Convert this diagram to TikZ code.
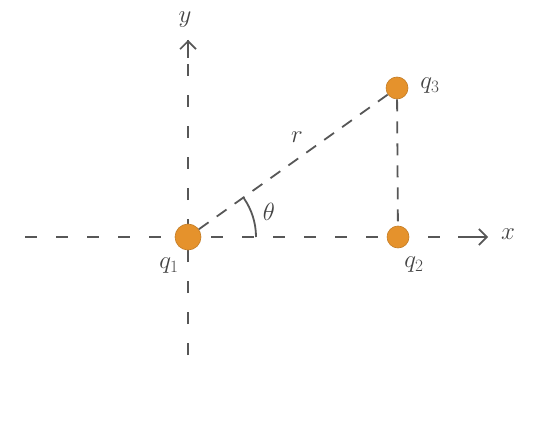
\documentclass[tikz,border=0pt]{standalone}
\usetikzlibrary{arrows.meta}
\definecolor{chg}{HTML}{E5922C}
\definecolor{ink}{HTML}{444444}
\begin{document}
\begin{tikzpicture}[x=1pt,y=-1pt,
  axis/.style={draw=ink!90,line width=1.8pt,dash pattern=on 12pt off 19pt},
  guide/.style={draw=ink!90,line width=1.8pt,dash pattern=on 12pt off 10pt},
  charge/.style={circle,fill=chg,draw=chg!85!black,line width=0.6pt,inner sep=0pt},
  lbl/.style={text=ink,font=\fontsize{24}{24}\selectfont},
  tip/.style={-{Straight Barb[length=8pt,width=16pt,line width=1.6pt]}}]
\useasboundingbox (0,0) rectangle (534,430);
% axes
\coordinate (xl) at (25,237);
\coordinate (xr) at (488,237);
\coordinate (yt) at (188,40);
\coordinate (yb) at (188,355);
\draw[axis] (xl) -- (xr);
\draw[axis] (yb) -- (yt);
\draw[ink!90,line width=1.8pt,tip] (458,237) -- (xr);
\draw[ink!90,line width=1.8pt,tip] (188,58) -- (yt);
% charges
\node[charge,minimum size=26pt] (q1) at (188,237) {};
\node[charge,minimum size=22pt] (q2) at (398,237) {};
\node[charge,minimum size=22pt] (q3) at (397,88) {};
\draw[guide] (q1) -- (q3);
\draw[guide] (q3) -- (q2);
% angle
\draw[ink!90,line width=1.8pt] ([shift={(0:68)}]188,237) arc[start angle=0,end angle=-35,radius=68];
% labels
\node[lbl] (ly) at (185,20) {$y$};
\node[lbl] (lx) at (508,234) {$x$};
\node[lbl] (lr) at (297,137) {$r$};
\node[lbl] (lt) at (269,212) {$\theta$};
\node[lbl] (l1) at (169,266) {$q_1$};
\node[lbl] (l2) at (414,265) {$q_2$};
\node[lbl] (l3) at (430,86) {$q_3$};
\end{tikzpicture}
\end{document}
